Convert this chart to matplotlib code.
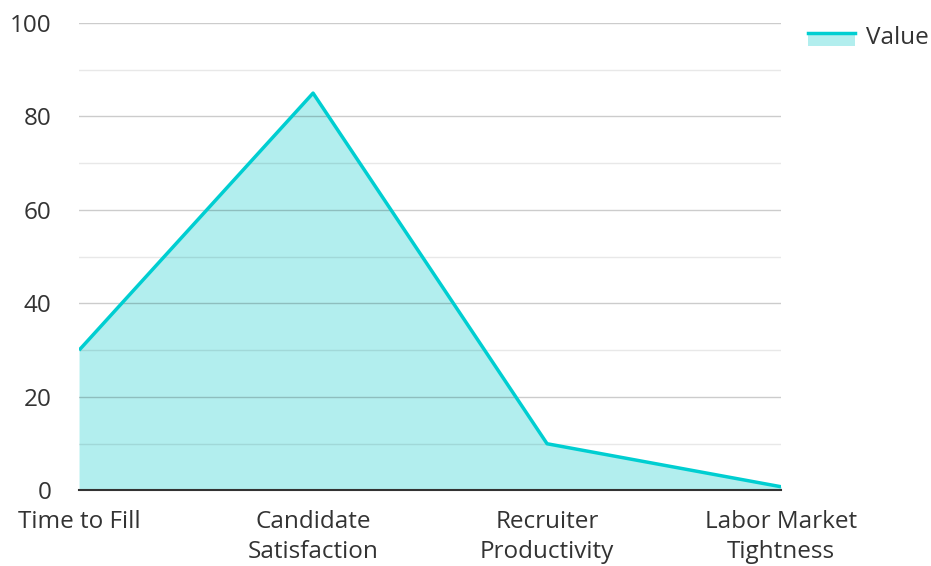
import matplotlib.pyplot as plt
from matplotlib.patches import Rectangle
from matplotlib.lines import Line2D

plt.rcParams['font.family'] = ['Open Sans', 'DejaVu Sans']

categories = ["Time to Fill", "Candidate\nSatisfaction", "Recruiter\nProductivity", "Labor Market\nTightness"]
values = [30, 85, 10, 0.8]

line_color = '#00CED1'
fill_color = '#b2eeee'
font_size = 17.5


class FillLineHandler:
    # legend key: filled box with the line along its top edge
    def legend_artist(self, legend, orig_handle, fontsize, handlebox):
        x0, y0 = handlebox.xdescent, handlebox.ydescent
        w, h = handlebox.width, handlebox.height
        box = Rectangle((x0, y0), w, h, facecolor=fill_color, edgecolor='none',
                        transform=handlebox.get_transform())
        top = Line2D([x0, x0 + w], [y0 + h, y0 + h], color=line_color, linewidth=2.5,
                     transform=handlebox.get_transform())
        handlebox.add_artist(box)
        handlebox.add_artist(top)
        return box


fig = plt.figure(figsize=(9.31, 5.66), dpi=100)
ax = fig.add_axes([0.0849, 0.1334, 0.7541, 0.826])

x = list(range(len(categories)))
ax.fill_between(x, values, 0, color=fill_color, linewidth=0, zorder=1)
ax.plot(x, values, color=line_color, linewidth=2.5, zorder=3, solid_capstyle='butt')

ax.set_xlim(0, len(categories) - 1)
ax.set_ylim(0, 100)
ax.set_yticks(range(0, 101, 20))
ax.set_yticks(range(10, 100, 20), minor=True)
# translucent dark grid so it stays visible over the filled area
ax.grid(True, which='major', axis='y', color='black', linewidth=1, alpha=0.2, zorder=2)
ax.grid(True, which='minor', axis='y', color='black', linewidth=1, alpha=0.09, zorder=2)
ax.set_axisbelow(False)

ax.set_xticks(x)
ax.set_xticklabels(categories, linespacing=1.35)
ax.tick_params(axis='both', which='both', length=0, labelsize=font_size, labelcolor='#333333')
ax.tick_params(axis='x', pad=14)
ax.tick_params(axis='y', pad=20)

for side in ['left', 'right', 'top']:
    ax.spines[side].set_visible(False)
ax.spines['bottom'].set_color('#333333')
ax.spines['bottom'].set_linewidth(1.5)
ax.spines['bottom'].set_zorder(4)

ax.legend([object()], ['Value'], handler_map={object: FillLineHandler()},
          loc='upper left', bbox_to_anchor=(0.844, 0.993), bbox_transform=fig.transFigure,
          frameon=False, fontsize=font_size, handlelength=1.95, handleheight=0.45,
          handletextpad=0.45, labelcolor='#333333')

fig.savefig('out.png', dpi=100)
